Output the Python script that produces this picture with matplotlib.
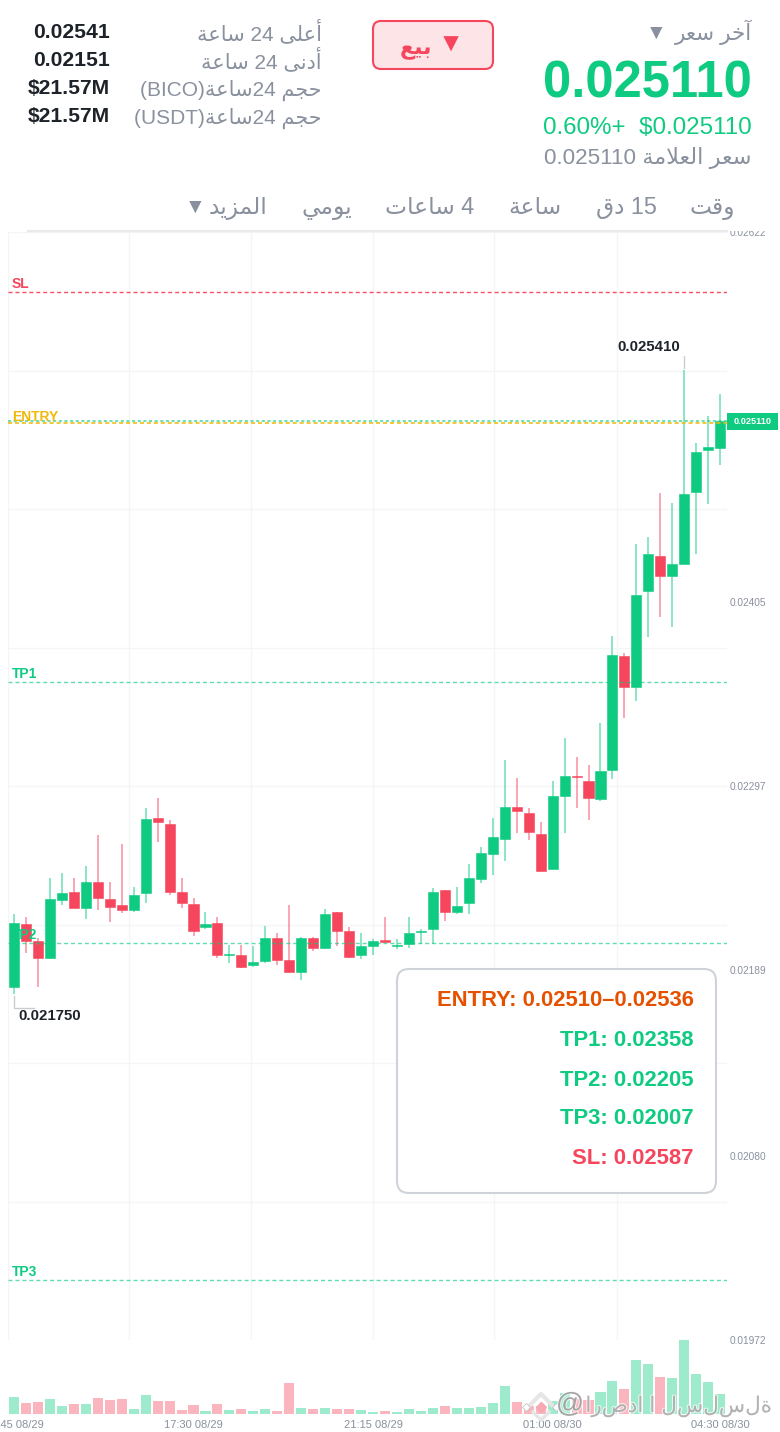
import re
import matplotlib
matplotlib.use("Agg")
import matplotlib.pyplot as plt
from matplotlib.patches import FancyBboxPatch, Rectangle
import matplotlib.patheffects as pe

plt.rcParams['font.family'] = ['Liberation Sans', 'DejaVu Sans']

GREEN = '#0ecb81'
RED = '#f6465d'
GRAY = '#8a919e'
DARK = '#1e2329'
YELLOW = '#f0b90b'

# candles, 15 min each
opens = [0.021792, 0.022160, 0.022060, 0.021960, 0.022301, 0.022347, 0.022254, 0.022408, 0.022308, 0.022271,
         0.022242, 0.022342, 0.022782, 0.022748, 0.022347, 0.022277, 0.022142, 0.022167, 0.021981, 0.021978,
         0.021921, 0.021943, 0.022078, 0.021949, 0.021880, 0.022078, 0.022019, 0.022230, 0.022119, 0.021980,
         0.022031, 0.022068, 0.022034, 0.022042, 0.022115, 0.022130, 0.022359, 0.022230, 0.022283, 0.022424,
         0.022570, 0.022660, 0.022848, 0.022811, 0.022688, 0.022482, 0.022911, 0.023028, 0.023000, 0.022893,
         0.023063, 0.023732, 0.023552, 0.024113, 0.024318, 0.024203, 0.024272, 0.024694, 0.024940, 0.024952]
closes = [0.022167, 0.022060, 0.021960, 0.022308, 0.022342, 0.022254, 0.022408, 0.022312, 0.022261, 0.022242,
          0.022330, 0.022777, 0.022760, 0.022349, 0.022283, 0.022121, 0.022160, 0.021980, 0.021987, 0.021909,
          0.021937, 0.022078, 0.021949, 0.021880, 0.022078, 0.022019, 0.022218, 0.022121, 0.021968, 0.022031,
          0.022060, 0.022054, 0.022040, 0.022109, 0.022119, 0.022347, 0.022230, 0.022267, 0.022430, 0.022578,
          0.022670, 0.022848, 0.022823, 0.022700, 0.022471, 0.022911, 0.023028, 0.023022, 0.022901, 0.023059,
          0.023740, 0.023552, 0.024090, 0.024330, 0.024203, 0.024272, 0.024682, 0.024930, 0.024960, 0.025110]
highs = [0.022218, 0.022201, 0.022078, 0.022430, 0.022459, 0.022430, 0.022500, 0.022682, 0.022408, 0.022629,
         0.022377, 0.022840, 0.022899, 0.022770, 0.022430, 0.022312, 0.022230, 0.022201, 0.022036, 0.022038,
         0.022031, 0.022148, 0.022109, 0.022271, 0.022085, 0.022085, 0.022248, 0.022230, 0.022142, 0.022109,
         0.022072, 0.022201, 0.022072, 0.022201, 0.022130, 0.022371, 0.022359, 0.022379, 0.022512, 0.022611,
         0.022782, 0.023122, 0.023018, 0.022840, 0.022760, 0.023000, 0.023251, 0.023141, 0.023093, 0.023341,
         0.023849, 0.023750, 0.024389, 0.024430, 0.024690, 0.024631, 0.025410, 0.024981, 0.025140, 0.025271]
lows = [0.021750, 0.021991, 0.021790, 0.021954, 0.022271, 0.022254, 0.022189, 0.022242, 0.022171, 0.022224,
        0.022230, 0.022283, 0.022643, 0.022330, 0.022254, 0.022091, 0.022130, 0.021962, 0.021931, 0.021902,
        0.021909, 0.021931, 0.021919, 0.021872, 0.021831, 0.022001, 0.022013, 0.022031, 0.021962, 0.021954,
        0.021980, 0.022048, 0.022013, 0.022019, 0.022042, 0.022042, 0.022177, 0.022220, 0.022220, 0.022402,
        0.022449, 0.022531, 0.022694, 0.022653, 0.022471, 0.022482, 0.022694, 0.022840, 0.022770, 0.022881,
        0.023010, 0.023370, 0.023470, 0.023843, 0.023962, 0.023904, 0.024272, 0.024332, 0.024624, 0.024852]
volumes = [17, 10.7, 11.7, 15, 8, 10.3, 9.7, 15.7, 14, 15.3,
           4.7, 18.7, 13, 13, 4, 8.7, 3.3, 9.7, 4, 4.7,
           3, 5.3, 3, 31, 5.7, 4.7, 5.7, 5, 4.7, 4,
           2, 3, 2, 4.7, 2.7, 6, 7.7, 6, 5.7, 7,
           11.3, 28.3, 12.3, 8, 8, 13, 21, 14.7, 13.7, 22.3,
           33, 25.3, 53.7, 50.3, 37.3, 36, 74, 40, 32, 20]

price_ticks = [0.02622, 0.02405, 0.02297, 0.02189, 0.02080, 0.01972]
price_labels = ['0.02622', '0.02405', '0.02297', '0.02189', '0.02080', '0.01972']
time_ticks = [0, 15, 30, 45, 59]
time_labels = ['13:45 08/29', '17:30 08/29', '21:15 08/29', '01:00 08/30', '04:30 08/30']

levels = [('SL', 0.02587, RED), ('ENTRY', 0.02510, YELLOW), ('TP1', 0.02358, GREEN),
          ('TP2', 0.02205, GREEN), ('TP3', 0.02007, GREEN)]
last_price = 0.02511

box_lines = [('ENTRY: 0.02510–0.02536', '#e65100'), ('TP1: 0.02358', GREEN), ('TP2: 0.02205', GREEN),
             ('TP3: 0.02007', GREEN), ('SL: 0.02587', RED)]
box_y = [1006, 1046, 1086, 1124, 1164]

# matplotlib has no arabic shaping, so pick presentation forms and flip to visual order
FORMS = {'ا': (0xFE8D, 2), 'أ': (0xFE83, 2), 'آ': (0xFE81, 2), 'ب': (0xFE8F, 4), 'ة': (0xFE93, 2), 'ت': (0xFE95, 4),
         'ج': (0xFE9D, 4), 'ح': (0xFEA1, 4), 'خ': (0xFEA5, 4), 'د': (0xFEA9, 2), 'ر': (0xFEAD, 2), 'ز': (0xFEAF, 2),
         'س': (0xFEB1, 4), 'ع': (0xFEC9, 4), 'ق': (0xFED5, 4), 'ل': (0xFEDD, 4), 'م': (0xFEE1, 4), 'ن': (0xFEE5, 4),
         'و': (0xFEED, 2), 'ى': (0xFEEF, 2), 'ي': (0xFEF1, 4)}
LAM_ALEF = {'ا': 0xFEFB, 'أ': 0xFEF7, 'آ': 0xFEF5}


def ar(s):
    out = ''
    i = 0
    while i < len(s):
        c = s[i]
        if c not in FORMS:
            out += c
            i += 1
            continue
        prev_joins = i > 0 and s[i - 1] in FORMS and FORMS[s[i - 1]][1] == 4
        nxt = s[i + 1] if i + 1 < len(s) else ''
        if c == 'ل' and nxt in LAM_ALEF:
            out += chr(LAM_ALEF[nxt] + (1 if prev_joins else 0))
            i += 2
            continue
        base, n = FORMS[c]
        next_joins = n == 4 and nxt in FORMS
        if prev_joins and next_joins:
            out += chr(base + 3)
        elif next_joins:
            out += chr(base + 2)
        elif prev_joins:
            out += chr(base + 1)
        else:
            out += chr(base)
        i += 1
    tokens = re.findall(r"[()A-Za-z0-9.%$+]+|[^()A-Za-z0-9.%$+]", out)
    return ''.join(reversed(tokens))


fig = plt.figure(figsize=(7.8, 14.32), dpi=100, facecolor='white')

# price panel
ax = fig.add_axes([8 / 780, 92 / 1432, 719 / 780, 1108 / 1432])
ax.set_xlim(-0.5, 59.57)
ax.set_ylim(0.01972, 0.02622)
for s in ax.spines.values():
    s.set_visible(False)
ax.yaxis.tick_right()
ax.set_yticks(price_ticks)
ax.set_yticklabels(price_labels, fontsize=7.3, color=GRAY)
ax.tick_params(axis='y', length=0, pad=2.2)
ax.set_xticks([])

for k in range(9):
    ax.axhline(0.02622 - k * 0.0008125, color='#f4f5f7', lw=0.9, zorder=1)
for g in [-0.47, 9.65, 19.82, 30, 40.14, 50.35]:
    ax.axvline(g, color='#f4f5f7', lw=0.9, zorder=1)

idx = list(range(len(opens)))
colors = [GREEN if c >= o else RED for o, c in zip(opens, closes)]
bottoms = [min(o, c) for o, c in zip(opens, closes)]
heights = [abs(c - o) for o, c in zip(opens, closes)]
ax.vlines(idx, lows, highs, colors=colors, lw=1.1, alpha=0.6, zorder=3)
ax.bar(idx, heights, bottom=bottoms, width=0.84, color=colors, edgecolor=colors, lw=0.4, zorder=4)

for name, val, col in levels:
    lw = 1.2 if name == 'ENTRY' else 1.0
    ax.axhline(val, color=col, lw=lw, ls=(0, (2.9 / lw, 2.1 / lw)), alpha=0.95 if col != GREEN else 0.65, zorder=5)
    ax.text(0.0055, val + (0.000012 if name == 'ENTRY' else 0.000024), name, transform=ax.get_yaxis_transform(),
            color=col, fontsize=10, fontweight='bold', va='baseline', ha='left', zorder=6)
ax.axhline(last_price, color=GREEN, lw=1.4, ls=(0, (1.6, 1.3)), alpha=0.6, zorder=5)

# high / low callouts
ax.annotate('0.025410', xy=(idx[highs.index(max(highs))], max(highs)), xytext=(-4, 23), textcoords='offset pixels',
            ha='right', va='center', fontsize=10.8, fontweight='bold', color=DARK, zorder=7)
ax.annotate('0.021750', xy=(idx[lows.index(min(lows))], min(lows)), xytext=(4, -22), textcoords='offset pixels',
            ha='left', va='center', fontsize=10.8, fontweight='bold', color=DARK, zorder=7)

# volume panel
vx = fig.add_axes([8 / 780, 18 / 1432, 719 / 780, 74 / 1432], facecolor='none')
vx.set_xlim(-0.5, 59.57)
vx.set_ylim(0, 74)
for s in vx.spines.values():
    s.set_visible(False)
vx.bar(idx, volumes, width=0.84, color=colors, alpha=0.4, lw=0)
vx.set_yticks([])
vx.set_xticks(time_ticks)
vx.set_xticklabels(time_labels, fontsize=8, color=GRAY)
vx.tick_params(axis='x', length=0, pad=4.5)

# overlay in pixel coords for the app chrome
ov = fig.add_axes([0, 0, 1, 1], facecolor='none')
ov.set_xlim(0, 780)
ov.set_ylim(1432, 0)
ov.axis('off')

ov.add_patch(Rectangle((0, 0), 780, 231, color='white', lw=0, zorder=1))
ov.plot([28, 727], [231, 231], color='#e9eaec', lw=1.6, zorder=2)

ov.text(752, 40, ar('آخر سعر'), ha='right', va='baseline', fontsize=15.5, color=GRAY)
ov.text(656, 33, '▼', ha='center', va='center', fontsize=15, color=GRAY)
ov.text(752, 97, '0.025110', ha='right', va='baseline', fontsize=36.5, fontweight='bold', color=GREEN)
ov.text(752, 134, '0.60%+  $0.025110', ha='right', va='baseline', fontsize=17.4, color=GREEN)
ov.text(752, 164, ar('سعر العلامة 0.025110'), ha='right', va='baseline', fontsize=16.1, color=GRAY)

stat_labels = ['أعلى 24 ساعة', 'أدنى 24 ساعة', 'حجم 24ساعة(BICO)', 'حجم 24ساعة(USDT)']
stat_values = ['0.02541', '0.02151', '$21.57M', '$21.57M']
for k, (lab, v) in enumerate(zip(stat_labels, stat_values)):
    ov.text(322, 40 + 28 * k, ar(lab), ha='right', va='baseline', fontsize=15, color=GRAY)
    ov.text(110, 38 + 28 * k, v, ha='right', va='baseline', fontsize=15.2, fontweight='bold', color=DARK)

ov.add_patch(FancyBboxPatch((373, 21), 120, 48, boxstyle='round,pad=0,rounding_size=8',
                            fc='#fde4e7', ec=RED, lw=1.5))
ov.text(416, 54, ar('بيع'), ha='center', va='baseline', fontsize=16, fontweight='bold', color=RED)
ov.text(451, 45, '▼', ha='center', va='center', fontsize=19, color=RED)

tabs = [('وقت', 712), ('15 دق', 626), ('ساعة', 535), ('4 ساعات', 430), ('يومي', 327), ('المزيد', 238)]
for lab, x in tabs:
    ov.text(x, 214, ar(lab), ha='center', va='baseline', fontsize=16.8, color=GRAY)
ov.text(195, 207, '▼', ha='center', va='center', fontsize=15, color=GRAY)

# last price tag
ov.add_patch(Rectangle((727, 413), 51, 17, color=GREEN, lw=0))
ov.text(752.5, 421.5, '0.025110', ha='center', va='center', fontsize=6.6, fontweight='bold', color='white')

# callout leaders
ov.plot([684, 684], [356, 368], color='#c9ccd1', lw=1)
ov.plot([14, 14, 34], [996, 1008, 1008], color='#c9ccd1', lw=1)

# levels box
ov.add_patch(FancyBboxPatch((397, 969), 319, 224, boxstyle='round,pad=0,rounding_size=12',
                            fc='white', ec='#cfd2d8', lw=1.5, zorder=3))
for (txt, col), y in zip(box_lines, box_y):
    ov.text(694, y, txt, ha='right', va='baseline', fontsize=15.8, fontweight='bold', color=col, zorder=4)

# watermark
halo = [pe.withStroke(linewidth=1.6, foreground='white', alpha=0.7)]
ov.text(570, 1405, '@', ha='center', va='center', fontsize=20, color='#8f8f8f', alpha=0.75, path_effects=halo)
ov.text(772, 1406, 'ارصدا ا لسلسلة', ha='right', va='center', fontsize=15.5, color='#8f8f8f', alpha=0.6,
        path_effects=halo)
ov.plot([530, 541, 552], [1405, 1394, 1405], color='#e6e6e6', lw=3)
ov.plot([533, 541, 549], [1412, 1420, 1412], color='#e6e6e6', lw=2.5)
ov.plot([526, 556], [1407, 1407], ls='none', marker='D', ms=4, color='white', mec='#bdbdbd', mew=0.5)
ov.plot([541], [1407], ls='none', marker='D', ms=5, color='#f7a8b2')

fig.savefig('out.png', dpi=100)
